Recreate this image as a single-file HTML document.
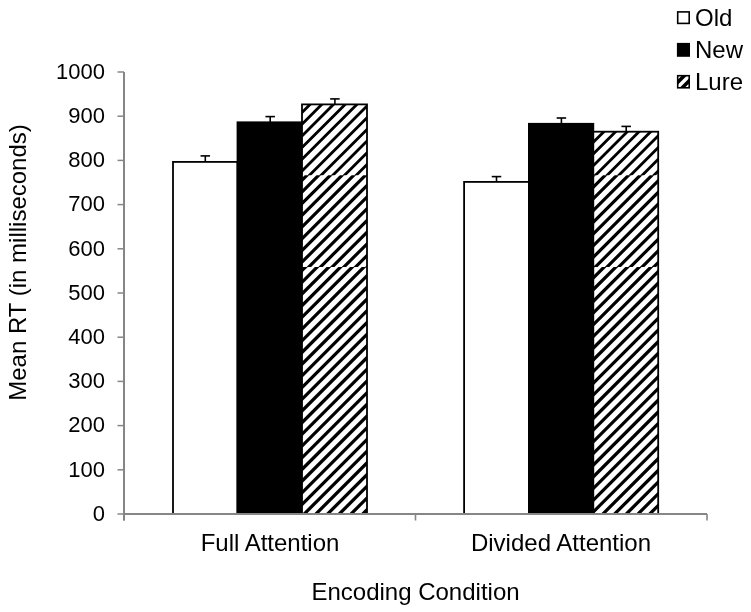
<!DOCTYPE html><html><head><meta charset="utf-8"><style>html,body{margin:0;padding:0;background:#fff;}svg{display:block;}text{font-family:"Liberation Sans",Arial,sans-serif;fill:#000;}</style></head><body>
<svg width="751" height="612" viewBox="0 0 751 612">
<defs><clipPath id="c2b0"><rect x="302.0" y="104.4" width="65.0" height="70.79999999999998"/></clipPath><clipPath id="c2b1"><rect x="302.0" y="175.2" width="65.0" height="91.80000000000001"/></clipPath><clipPath id="c2b2"><rect x="302.0" y="267.0" width="65.0" height="247.0"/></clipPath><clipPath id="c5b0"><rect x="593.3" y="131.7" width="64.90000000000009" height="43.5"/></clipPath><clipPath id="c5b1"><rect x="593.3" y="175.2" width="64.90000000000009" height="91.80000000000001"/></clipPath><clipPath id="c5b2"><rect x="593.3" y="267.0" width="64.90000000000009" height="247.0"/></clipPath><clipPath id="lg"><rect x="677.7" y="75.7" width="11.5" height="12.1"/></clipPath></defs>
<rect width="751" height="612" fill="#fff"/>
<rect x="173.0" y="161.9" width="64.5" height="352.1" fill="#fff"/>
<rect x="173.0" y="161.9" width="64.5" height="352.1" fill="none" stroke="#000" stroke-width="1.8"/>
<line x1="205.3" y1="155.9" x2="205.3" y2="161.9" stroke="#000" stroke-width="1.6"/>
<line x1="200.55" y1="155.9" x2="210.05" y2="155.9" stroke="#000" stroke-width="1.6"/>
<rect x="237.5" y="122.3" width="64.5" height="391.7" fill="#000"/>
<rect x="237.5" y="122.3" width="64.5" height="391.7" fill="none" stroke="#000" stroke-width="1.8"/>
<line x1="270.2" y1="116.6" x2="270.2" y2="122.3" stroke="#000" stroke-width="1.6"/>
<line x1="265.45" y1="116.6" x2="274.95" y2="116.6" stroke="#000" stroke-width="1.6"/>
<rect x="302.0" y="104.4" width="65.0" height="409.6" fill="#fff"/>
<path clip-path="url(#c2b0)" d="M203.90 187.20L298.70 92.40M215.60 187.20L310.40 92.40M227.30 187.20L322.10 92.40M239.00 187.20L333.80 92.40M250.70 187.20L345.50 92.40M262.40 187.20L357.20 92.40M274.10 187.20L368.90 92.40M285.80 187.20L380.60 92.40M297.50 187.20L392.30 92.40M309.20 187.20L404.00 92.40M320.90 187.20L415.70 92.40M332.60 187.20L427.40 92.40M344.30 187.20L439.10 92.40M356.00 187.20L450.80 92.40M367.70 187.20L462.50 92.40" stroke="#000" stroke-width="2.828" fill="none"/>
<path clip-path="url(#c2b1)" d="M191.50 279.00L307.30 163.20M203.20 279.00L319.00 163.20M214.90 279.00L330.70 163.20M226.60 279.00L342.40 163.20M238.30 279.00L354.10 163.20M250.00 279.00L365.80 163.20M261.70 279.00L377.50 163.20M273.40 279.00L389.20 163.20M285.10 279.00L400.90 163.20M296.80 279.00L412.60 163.20M308.50 279.00L424.30 163.20M320.20 279.00L436.00 163.20M331.90 279.00L447.70 163.20M343.60 279.00L459.40 163.20M355.30 279.00L471.10 163.20M367.00 279.00L482.80 163.20" stroke="#000" stroke-width="3.182" fill="none"/>
<path clip-path="url(#c2b2)" d="M34.80 526.00L305.80 255.00M46.50 526.00L317.50 255.00M58.20 526.00L329.20 255.00M69.90 526.00L340.90 255.00M81.60 526.00L352.60 255.00M93.30 526.00L364.30 255.00M105.00 526.00L376.00 255.00M116.70 526.00L387.70 255.00M128.40 526.00L399.40 255.00M140.10 526.00L411.10 255.00M151.80 526.00L422.80 255.00M163.50 526.00L434.50 255.00M175.20 526.00L446.20 255.00M186.90 526.00L457.90 255.00M198.60 526.00L469.60 255.00M210.30 526.00L481.30 255.00M222.00 526.00L493.00 255.00M233.70 526.00L504.70 255.00M245.40 526.00L516.40 255.00M257.10 526.00L528.10 255.00M268.80 526.00L539.80 255.00M280.50 526.00L551.50 255.00M292.20 526.00L563.20 255.00M303.90 526.00L574.90 255.00M315.60 526.00L586.60 255.00M327.30 526.00L598.30 255.00M339.00 526.00L610.00 255.00M350.70 526.00L621.70 255.00M362.40 526.00L633.40 255.00" stroke="#000" stroke-width="3.253" fill="none"/>
<rect x="302.0" y="104.4" width="65.0" height="409.6" fill="none" stroke="#000" stroke-width="1.8"/>
<line x1="334.9" y1="98.9" x2="334.9" y2="104.4" stroke="#000" stroke-width="1.6"/>
<line x1="330.15" y1="98.9" x2="339.65" y2="98.9" stroke="#000" stroke-width="1.6"/>
<rect x="464.1" y="181.9" width="64.79999999999995" height="332.1" fill="#fff"/>
<rect x="464.1" y="181.9" width="64.79999999999995" height="332.1" fill="none" stroke="#000" stroke-width="1.8"/>
<line x1="496.5" y1="176.6" x2="496.5" y2="181.9" stroke="#000" stroke-width="1.6"/>
<line x1="491.75" y1="176.6" x2="501.25" y2="176.6" stroke="#000" stroke-width="1.6"/>
<rect x="528.9" y="123.8" width="64.39999999999998" height="390.2" fill="#000"/>
<rect x="528.9" y="123.8" width="64.39999999999998" height="390.2" fill="none" stroke="#000" stroke-width="1.8"/>
<line x1="561.4" y1="118.0" x2="561.4" y2="123.8" stroke="#000" stroke-width="1.6"/>
<line x1="556.65" y1="118.0" x2="566.15" y2="118.0" stroke="#000" stroke-width="1.6"/>
<rect x="593.3" y="131.7" width="64.90000000000009" height="382.3" fill="#fff"/>
<path clip-path="url(#c5b0)" d="M525.00 187.20L592.50 119.70M536.70 187.20L604.20 119.70M548.40 187.20L615.90 119.70M560.10 187.20L627.60 119.70M571.80 187.20L639.30 119.70M583.50 187.20L651.00 119.70M595.20 187.20L662.70 119.70M606.90 187.20L674.40 119.70M618.60 187.20L686.10 119.70M630.30 187.20L697.80 119.70M642.00 187.20L709.50 119.70M653.70 187.20L721.20 119.70" stroke="#000" stroke-width="2.828" fill="none"/>
<path clip-path="url(#c5b1)" d="M478.00 279.00L593.80 163.20M489.70 279.00L605.50 163.20M501.40 279.00L617.20 163.20M513.10 279.00L628.90 163.20M524.80 279.00L640.60 163.20M536.50 279.00L652.30 163.20M548.20 279.00L664.00 163.20M559.90 279.00L675.70 163.20M571.60 279.00L687.40 163.20M583.30 279.00L699.10 163.20M595.00 279.00L710.80 163.20M606.70 279.00L722.50 163.20M618.40 279.00L734.20 163.20M630.10 279.00L745.90 163.20M641.80 279.00L757.60 163.20M653.50 279.00L769.30 163.20" stroke="#000" stroke-width="3.182" fill="none"/>
<path clip-path="url(#c5b2)" d="M321.80 526.00L592.80 255.00M333.50 526.00L604.50 255.00M345.20 526.00L616.20 255.00M356.90 526.00L627.90 255.00M368.60 526.00L639.60 255.00M380.30 526.00L651.30 255.00M392.00 526.00L663.00 255.00M403.70 526.00L674.70 255.00M415.40 526.00L686.40 255.00M427.10 526.00L698.10 255.00M438.80 526.00L709.80 255.00M450.50 526.00L721.50 255.00M462.20 526.00L733.20 255.00M473.90 526.00L744.90 255.00M485.60 526.00L756.60 255.00M497.30 526.00L768.30 255.00M509.00 526.00L780.00 255.00M520.70 526.00L791.70 255.00M532.40 526.00L803.40 255.00M544.10 526.00L815.10 255.00M555.80 526.00L826.80 255.00M567.50 526.00L838.50 255.00M579.20 526.00L850.20 255.00M590.90 526.00L861.90 255.00M602.60 526.00L873.60 255.00M614.30 526.00L885.30 255.00M626.00 526.00L897.00 255.00M637.70 526.00L908.70 255.00M649.40 526.00L920.40 255.00M661.10 526.00L932.10 255.00" stroke="#000" stroke-width="3.253" fill="none"/>
<rect x="593.3" y="131.7" width="64.90000000000009" height="382.3" fill="none" stroke="#000" stroke-width="1.8"/>
<line x1="626.2" y1="126.4" x2="626.2" y2="131.7" stroke="#000" stroke-width="1.6"/>
<line x1="621.45" y1="126.4" x2="630.95" y2="126.4" stroke="#000" stroke-width="1.6"/>
<line x1="124.0" y1="72.0" x2="124.0" y2="520.5" stroke="#868686" stroke-width="2"/>
<line x1="117.5" y1="514.0" x2="124.0" y2="514.0" stroke="#868686" stroke-width="1.5"/>
<text x="105" y="520.8" font-size="22" text-anchor="end">0</text>
<line x1="117.5" y1="469.8" x2="124.0" y2="469.8" stroke="#868686" stroke-width="1.5"/>
<text x="105" y="476.6" font-size="22" text-anchor="end">100</text>
<line x1="117.5" y1="425.6" x2="124.0" y2="425.6" stroke="#868686" stroke-width="1.5"/>
<text x="105" y="432.40000000000003" font-size="22" text-anchor="end">200</text>
<line x1="117.5" y1="381.4" x2="124.0" y2="381.4" stroke="#868686" stroke-width="1.5"/>
<text x="105" y="388.2" font-size="22" text-anchor="end">300</text>
<line x1="117.5" y1="337.2" x2="124.0" y2="337.2" stroke="#868686" stroke-width="1.5"/>
<text x="105" y="344.0" font-size="22" text-anchor="end">400</text>
<line x1="117.5" y1="293.0" x2="124.0" y2="293.0" stroke="#868686" stroke-width="1.5"/>
<text x="105" y="299.8" font-size="22" text-anchor="end">500</text>
<line x1="117.5" y1="248.8" x2="124.0" y2="248.8" stroke="#868686" stroke-width="1.5"/>
<text x="105" y="255.60000000000002" font-size="22" text-anchor="end">600</text>
<line x1="117.5" y1="204.60000000000002" x2="124.0" y2="204.60000000000002" stroke="#868686" stroke-width="1.5"/>
<text x="105" y="211.40000000000003" font-size="22" text-anchor="end">700</text>
<line x1="117.5" y1="160.39999999999998" x2="124.0" y2="160.39999999999998" stroke="#868686" stroke-width="1.5"/>
<text x="105" y="167.2" font-size="22" text-anchor="end">800</text>
<line x1="117.5" y1="116.19999999999999" x2="124.0" y2="116.19999999999999" stroke="#868686" stroke-width="1.5"/>
<text x="105" y="122.99999999999999" font-size="22" text-anchor="end">900</text>
<line x1="117.5" y1="72.0" x2="124.0" y2="72.0" stroke="#868686" stroke-width="1.5"/>
<text x="105" y="78.8" font-size="22" text-anchor="end">1000</text>
<line x1="124.0" y1="514.0" x2="707.0" y2="514.0" stroke="#868686" stroke-width="2"/>
<line x1="124.0" y1="514.0" x2="124.0" y2="520.5" stroke="#868686" stroke-width="1.6"/>
<line x1="415.5" y1="514.0" x2="415.5" y2="520.5" stroke="#868686" stroke-width="1.6"/>
<line x1="707.0" y1="514.0" x2="707.0" y2="520.5" stroke="#868686" stroke-width="1.6"/>
<text x="270" y="551" font-size="24" text-anchor="middle">Full Attention</text>
<text x="561" y="551" font-size="24" text-anchor="middle">Divided Attention</text>
<text x="415.5" y="599.5" font-size="24" text-anchor="middle">Encoding Condition</text>
<text transform="translate(26,262.5) rotate(-90)" font-size="24" text-anchor="middle">Mean RT (in milliseconds)</text>
<rect x="677.7" y="11.899999999999999" width="11.5" height="11.5" fill="#fff"/>
<rect x="677.7" y="11.899999999999999" width="11.5" height="11.5" fill="none" stroke="#000" stroke-width="1.6"/>
<text x="695" y="25.5" font-size="24">Old</text>
<rect x="677.7" y="43.7" width="11.5" height="12.3" fill="#000"/>
<rect x="677.7" y="43.7" width="11.5" height="12.3" fill="none" stroke="#000" stroke-width="1.6"/>
<text x="695" y="57.5" font-size="24">New</text>
<rect x="677.7" y="75.7" width="11.5" height="12.1" fill="#fff"/>
<path clip-path="url(#lg)" d="M660.0 100L700.0 60M670.0 100L710.0 60" stroke="#000" stroke-width="3.6" fill="none"/>
<rect x="677.7" y="75.7" width="11.5" height="12.1" fill="none" stroke="#000" stroke-width="1.6"/>
<text x="695" y="89.5" font-size="24">Lure</text>
</svg></body></html>
